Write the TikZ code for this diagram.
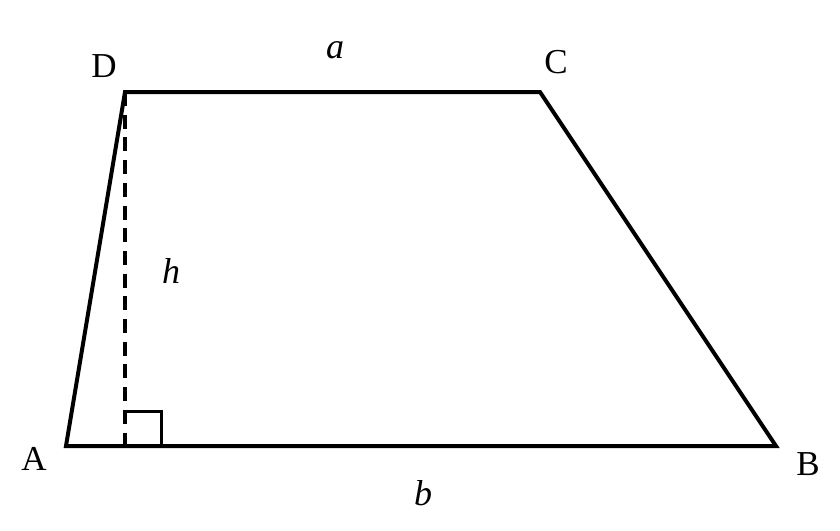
\documentclass[tikz,border=0pt]{standalone}
\usepackage{fontspec}
\setmainfont{Liberation Serif}
\begin{document}
\begin{tikzpicture}[x=1pt,y=-1pt,
  edge/.style={line width=4pt,line join=miter,black},
  hline/.style={line width=4pt,dash pattern=on 14pt off 8.7pt,black},
  rightmark/.style={line width=3pt,black},
  vlabel/.style={anchor=base,inner sep=0pt,font=\fontsize{35}{40}\selectfont},
  slabel/.style={anchor=base,inner sep=0pt,font=\fontsize{36}{40}\selectfont\itshape}]
\fill[white] (0,0) rectangle (840,530);
\useasboundingbox (0,0) rectangle (840,530);
\coordinate (A) at (66,446);
\coordinate (B) at (776,446);
\coordinate (C) at (540,92);
\coordinate (D) at (125,92);
\coordinate (H) at (125,446);
\coordinate (S1) at (125,411);
\coordinate (S2) at (161,411);
\coordinate (S3) at (161,446);
\draw[edge] (A) -- (B) -- (C) -- (D) -- cycle;
\draw[hline] (D) -- (H);
\draw[rightmark] (S1) -- (S2) -- (S3);
\node[vlabel] (lD) at (104,77) {D};
\node[vlabel] (lC) at (556,73) {C};
\node[vlabel] (lA) at (34,470) {A};
\node[vlabel] (lB) at (808,475) {B};
\node[slabel] (la) at (335,58) {a};
\node[slabel] (lb) at (423,505) {b};
\node[slabel] (lh) at (171,283) {h};
\end{tikzpicture}
\end{document}
